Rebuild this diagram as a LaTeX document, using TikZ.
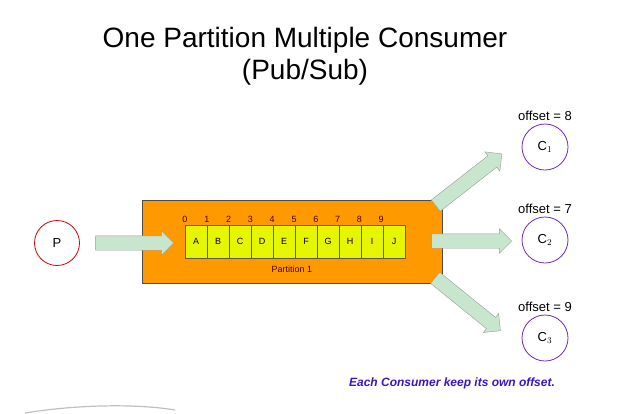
\documentclass[tikz,border=0pt]{standalone}
\usepackage{fontspec}
\setmainfont{Liberation Sans}
\usetikzlibrary{shapes.arrows}
\definecolor{orng}{RGB}{255,153,0}
\definecolor{cell}{RGB}{230,245,0}
\definecolor{arr}{RGB}{200,230,205}
\definecolor{purp}{RGB}{110,40,200}
\definecolor{foot}{RGB}{60,20,200}
\begin{document}
\begin{tikzpicture}[x=1pt,y=-1pt,
  blk/.style={single arrow,draw=gray!80,fill=arr,text height=0pt,text depth=0pt,inner ysep=7pt,inner xsep=0pt,single arrow head extend=5pt,single arrow tip angle=90,minimum height=#1},
  cons/.style={circle,draw=purp,thick,minimum size=46pt,inner sep=0pt,font=\fontsize{13}{15}\selectfont},
  cl/.style={draw=gray!70!black,fill=cell,minimum width=22pt,minimum height=33pt,inner sep=0pt,font=\fontsize{9}{10}\selectfont},
  lbl/.style={font=\fontsize{13}{15}\selectfont}]
\useasboundingbox (0,0) rectangle (624,413);
\node (t1) at (305,40) {\fontsize{28}{30}\selectfont One Partition Multiple Consumer};
\node (t2) at (305,72) {\fontsize{28}{30}\selectfont (Pub/Sub)};
\node (box) [draw=gray!60!black,fill=orng,minimum width=300pt,minimum height=83pt,inner sep=0pt] at (292,241.5) {};
\foreach \l [count=\i from 0] in {A,B,C,D,E,F,G,H,I,J}{
  \node[cl] (c\i) at (196+\i*22,241.5) {\l};
  \node[font=\fontsize{9}{10}\selectfont,text=black!70!red] (n\i) at (185+\i*21.8,219) {\i};
}
\node (pl) [font=\fontsize{9}{10}\selectfont,text=black!70!red] at (292,269) {Partition 1};
\node (P) [circle,draw=red!85!black,thick,minimum size=45pt,inner sep=0pt,font=\fontsize{13}{15}\selectfont] at (57,243) {P};
\node (a0) [blk=78pt] at (131,243) {};
\node (a2) [blk=80pt] at (468,241) {};
\node (a1) [blk=84pt,rotate=38] at (466,182) {};
\node (a3) [blk=84pt,rotate=-39] at (465,302) {};
\node (C1) [cons] at (545,147) {C$_1$};
\node (C2) [cons] at (545,240) {C$_2$};
\node (C3) [cons] at (545,338) {C$_3$};
\node (o1) [lbl] at (545,116) {offset = 8};
\node (o2) [lbl] at (545,209) {offset = 7};
\node (o3) [lbl] at (545,307) {offset = 9};
\node (f) [text=foot,font=\fontsize{12}{14}\selectfont\bfseries\itshape] at (452,383) {Each Consumer keep its own offset.};
\draw[gray!50,line width=1.2pt] (25,413) .. controls (80,404) and (140,404) .. (175,410);
\end{tikzpicture}
\end{document}
